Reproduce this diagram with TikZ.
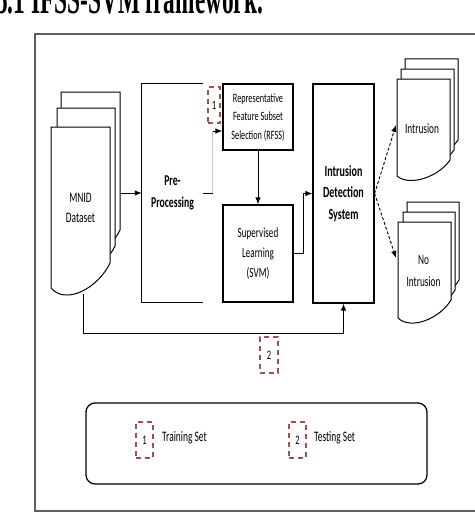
\documentclass[tikz,border=0pt]{standalone}
\usepackage{fontspec}
\setmainfont{Carlito}[FakeStretch=0.65]
\newfontfamily\titlefont{Liberation Serif}[FakeStretch=0.53]
\usetikzlibrary{arrows.meta,calc}
\definecolor{dashred}{RGB}{160,80,78}
\definecolor{framegray}{RGB}{95,95,95}
\newcommand\docsheet[5]{%
 \pgfmathsetmacro\pax{#1+0.8*(#3-#1)}%
 \pgfmathsetmacro\pay{#4+1.0*(#5-#4)}%
 \pgfmathsetmacro\pbx{#1+0.25*(#3-#1)}%
 \pgfmathsetmacro\pby{#5+0.7*(#5-#4)}%
 \draw[sheet] (#1,#2) -- (#3,#2) -- (#3,#4) .. controls (\pax,\pay) and (\pbx,\pby) .. (#1,#5) -- cycle;}
\begin{document}
\begin{tikzpicture}[x=1pt,y=-1pt,
  box/.style={draw,line width=1.2pt,inner sep=0pt,align=center},
  lbl/.style={align=center,inner sep=0pt},
  conn/.style={line width=1pt,-{Latex[length=7pt,width=5.5pt]}},
  dconn/.style={line width=0.9pt,dash pattern=on 3pt off 2pt,-{Latex[length=7pt,width=5.5pt]}},
  tagbox/.style={draw=dashred,line width=1.3pt,dash pattern=on 5pt off 4pt,minimum height=36pt,inner sep=0pt,font=\fontsize{13}{15}\selectfont},
  sheet/.style={draw,fill=white,line width=1pt},
]
\useasboundingbox (0,0) rectangle (474,519);
% title (cut at top)
\node[anchor=base west,inner sep=0pt] (title) at (-4,14) {\titlefont\bfseries\fontsize{44}{48}\selectfont 5.1 IFSS-SVM framework.};
% outer frame
\draw[framegray,line width=1.1pt] (477,34) -- (35,34) -- (35,511) -- (477,511);

% MNID dataset stack
\docsheet{61}{92}{120}{230}{255}
\docsheet{57}{108}{115}{246}{270}
\docsheet{51}{127}{110}{263}{288}
\node[lbl,font=\fontsize{14.5}{20}\selectfont] (mnid) at (80.5,208) {MNID\\Dataset};
\coordinate (mnidR) at (120,193);
\coordinate (mnidB) at (83,294);
\coordinate (bl) at (83,333);

% Pre-processing
\node[lbl,minimum width=61pt,minimum height=218pt,font=\fontsize{15}{22}\selectfont\bfseries] (pre) at (172.5,193) {Pre-\\Processing};
\draw[line width=1.2pt] (pre.north east) -- (pre.north west) -- (pre.south west) -- (pre.south east);

% RFSS and SVM
\node[box,minimum width=70pt,minimum height=66pt,font=\fontsize{12.7}{18.5}\selectfont] (rfss) at (258,117) {Representative\\Feature Subset\\Selection (RFSS)};
\node[box,minimum width=70pt,minimum height=97pt,font=\fontsize{14}{20}\selectfont] (svm) at (258,253.5) {Supervised\\Learning\\(SVM)};

% IDS
\node[box,minimum width=61pt,minimum height=219pt,font=\fontsize{15.5}{21.5}\selectfont\bfseries] (ids) at (343.5,193.5) {Intrusion\\Detection\\System};

% Output stacks
\docsheet{405}{59}{458}{140}{156}
\docsheet{401}{69}{454}{150}{166}
\docsheet{397}{79}{450}{160}{176}
\node[lbl,font=\fontsize{14.3}{22}\selectfont] (intr) at (422,129) {Intrusion};
\docsheet{407}{202}{459}{280}{298}
\docsheet{403}{212}{455}{290}{308}
\docsheet{398}{222}{451}{300}{318}
\node[lbl,font=\fontsize{14.3}{22}\selectfont] (nointr) at (423.5,271) {No\\Intrusion};
\coordinate (intA) at (396,125);
\coordinate (nointA) at (396,258);

% tags
\node[tagbox,minimum width=12pt] (tag1) at (214,105) {1};
\node[tagbox,minimum width=18pt] (tag2) at (269,355) {2};

% connectors
\draw[conn] (mnidR) -- (pre.west);
\draw[line width=1pt] (pre.east) -- ++(9.5,0) coordinate (pk);
\coordinate (rin) at ($(rfss.west)+(0,14)$);
\draw[gray!45,line width=0.8pt] (pk) -- (pk |- rin);
\draw[conn] (pk |- rin) -- (rin);
\draw[conn] (rfss.south) -- (svm.north);
\draw[conn] (svm.east) -- ++(10,0) |- (ids.west);
\draw[dconn] (ids.east) -- (intA);
\draw[dconn] (ids.east) -- (nointA);
\draw[conn] (mnidB) -- (bl) -| (ids.south);

% legend
\node[draw,line width=1.3pt,rounded corners=9pt,minimum width=341pt,minimum height=81pt] (legend) at (256.5,443.5) {};
\node[tagbox,minimum width=17pt] (ltag1) at (144.5,440) {1};
\node[lbl,anchor=west,font=\fontsize{14.5}{17}\selectfont] (ltrain) at (162,438) {Training Set};
\node[tagbox,minimum width=17pt] (ltag2) at (297.5,440) {2};
\node[lbl,anchor=west,font=\fontsize{14.5}{17}\selectfont] (ltest) at (314,438) {Testing Set};
\end{tikzpicture}
\end{document}
